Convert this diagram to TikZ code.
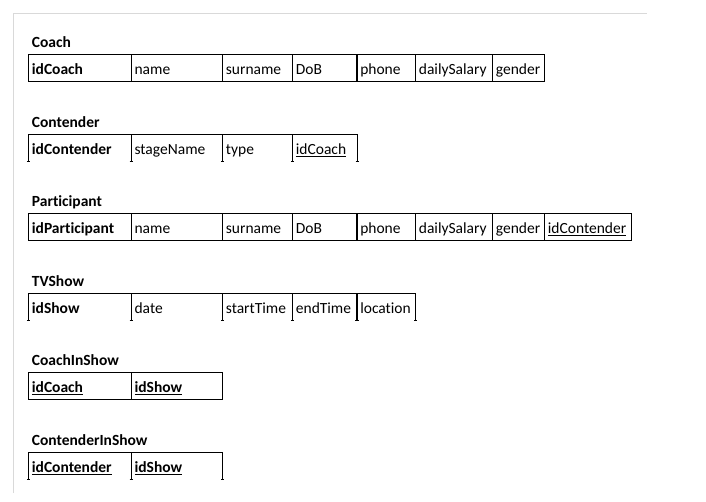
\documentclass[tikz,border=0pt]{standalone}
\usepackage{fontspec}
\setmainfont[RawFeature=-liga]{Carlito}
\usetikzlibrary{positioning}
\newcommand{\cellfont}{\fontsize{15.5}{18}\selectfont}
\tikzset{
	title/.style={anchor=base west,inner sep=0pt,font=\cellfont\bfseries},
	cell/.style={anchor=north west,inner xsep=3.4pt,inner ysep=0pt,minimum height=26.7pt,
		text height=12.7pt,text depth=0pt,align=left,font=\cellfont},
	rule/.style={line width=.8pt,black}
}
\def\colx{{28.3,131,222.3,292.3,356.7,415.3,492.3,544.3,631}}
% #1 name, #2 title, #3 top, #4 closed (1) or open bottom (0), #5 cells
\newcommand{\reltable}[5]{
	\node[title] (#1) at (31.7,#3-7.3) {#2};
	\foreach \txt [count=\i] in {#5}{
		\pgfmathsetmacro{\xl}{\colx[\i-1]}
		\pgfmathsetmacro{\w}{\colx[\i]-\xl-6.8}
		\node[cell,text width=\w pt] (#1-\i) at (\xl,#3) {\txt};
		\ifnum#4=1
			\draw[rule] (#1-\i.south west) rectangle (#1-\i.north east);
		\else
			\draw[rule] (#1-\i.south west) |- (#1-\i.north east) -- (#1-\i.south east);
			\draw[rule] ([xshift=-1.5pt]#1-\i.south west) -- ([xshift=1.5pt]#1-\i.south west);
			\draw[rule] ([xshift=-1.5pt]#1-\i.south east) -- ([xshift=1.5pt]#1-\i.south east);
		\fi
	}
}

\begin{document}
\begin{tikzpicture}[x=1pt,y=-1pt]
	\useasboundingbox (0,0) rectangle (706,501);
	\draw[black!15,line width=1pt] (13.3,493) -- (13.3,13.3) -- (647,13.3);
	\reltable{coach}{Coach}{54.3}{1}{\textbf{idCoach},name,surname,DoB,phone,dailySalary,gender}
	\reltable{contender}{Contender}{134.3}{0}{\textbf{idContender},stageName,type,\underline{idCoach}}
	\reltable{participant}{Participant}{213.3}{1}{\textbf{idParticipant},name,surname,DoB,phone,dailySalary,gender,\underline{idContender}}
	\reltable{tvshow}{TVShow}{293.3}{0}{\textbf{idShow},date,startTime,endTime,location}
	\reltable{coachinshow}{CoachInShow}{372.3}{1}{\underline{\textbf{idCoach}},\underline{\textbf{idShow}}}
	\reltable{contenderinshow}{ContenderInShow}{452.3}{0}{\underline{\textbf{idContender}},\underline{\textbf{idShow}}}
\end{tikzpicture}
\end{document}
